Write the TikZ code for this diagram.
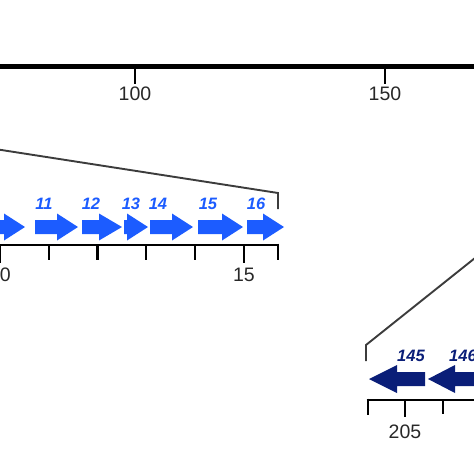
\documentclass[tikz,border=0pt]{standalone}
\usepackage{fontspec}
\setmainfont{Liberation Sans}
\usetikzlibrary{positioning}

\definecolor{geneblue}{RGB}{28,92,255}
\definecolor{genenavy}{RGB}{10,30,120}
\definecolor{zoomgray}{RGB}{60,60,60}
\definecolor{numgray}{RGB}{40,40,40}

% gene arrows: tail, head start, tip, centre line
\newcommand{\generight}[4]{(#1,#4-7) -- (#2,#4-7) -- (#2,#4-13.5) -- (#3,#4) -- (#2,#4+13.5) -- (#2,#4+7) -- (#1,#4+7) -- cycle}
\newcommand{\geneleft}[4]{(#1,#4-7) -- (#2,#4-7) -- (#2,#4-14) -- (#3,#4) -- (#2,#4+14) -- (#2,#4+7) -- (#1,#4+7) -- cycle}

\tikzset{
  genelabel/.style={font=\fontsize{16.5}{17}\selectfont\bfseries\itshape, inner sep=0pt},
  numlabel/.style={font=\fontsize{19.5}{20}\selectfont, text=numgray, inner sep=0pt},
  tickmark/.style={line width=2.6pt, line cap=butt},
  zoomline/.style={draw=zoomgray, line width=1.9pt}
}

\begin{document}
\begin{tikzpicture}[x=1pt, y=-1pt]
    \useasboundingbox (0,0) rectangle (474,474);
    \clip (0,0) rectangle (474,474);

    % top axis
    \draw[line width=5pt] (-5,66) -- (480,66);
    \draw[tickmark] (135,66) -- (135,84);
    \draw[tickmark] (385,66) -- (385,84);
    \node[numlabel] (t100) at (135,94) {100};
    \node[numlabel] (t150) at (385,94) {150};

    % left track
    \coordinate (lz1) at (-5,149);
    \coordinate (lz2) at (278,193);
    \coordinate (lz3) at (278,209);
    \draw[zoomline] (lz1) -- (lz2) -- (lz3);

    \fill[geneblue] \generight{-30}{4}{25}{227};
    \fill[geneblue] \generight{35}{57}{78}{227};
    \fill[geneblue] \generight{82}{99}{122}{227};
    \fill[geneblue] \generight{124}{127}{148}{227};
    \fill[geneblue] \generight{150}{172}{193}{227};
    \fill[geneblue] \generight{198}{222}{243}{227};
    \fill[geneblue] \generight{247}{263}{284}{227};
    \node[genelabel, text=geneblue] (g11) at (44,204) {11};
    \node[genelabel, text=geneblue] (g12) at (91,204) {12};
    \node[genelabel, text=geneblue] (g13) at (131,204) {13};
    \node[genelabel, text=geneblue] (g14) at (158,204) {14};
    \node[genelabel, text=geneblue] (g15) at (208,204) {15};
    \node[genelabel, text=geneblue] (g16) at (256,204) {16};

    \draw[line width=2.6pt] (-5,245) -- (279.3,245);
    \draw[tickmark] (0,245) -- (0,263);
    \draw[tickmark] (49,245) -- (49,260);
    \draw[tickmark] (97.5,245) -- (97.5,260);
    \draw[tickmark] (146,245) -- (146,260);
    \draw[tickmark] (195,245) -- (195,260);
    \draw[tickmark] (244,245) -- (244,263);
    \draw[tickmark] (278,243.7) -- (278,260);
    \node[numlabel] (t10) at (0,275) {10};
    \node[numlabel] (t15) at (244,275) {15};

    % right track
    \coordinate (rz1) at (366,361);
    \coordinate (rz2) at (366,345);
    \coordinate (rz3) at (480,254);
    \draw[zoomline] (rz1) -- (rz2) -- (rz3);

    \fill[genenavy] \geneleft{425}{397}{369}{379};
    \fill[genenavy] \geneleft{490}{455}{428}{379};
    \node[genelabel, text=genenavy] (g145) at (411,356) {145};
    \node[genelabel, text=genenavy] (g146) at (463,356) {146};

    \draw[line width=2.6pt] (366.7,400) -- (480,400);
    \draw[tickmark] (368,398.7) -- (368,415);
    \draw[tickmark] (405,400) -- (405,417);
    \draw[tickmark] (443,400) -- (443,414);
    \node[numlabel] (t205) at (405,432) {205};
\end{tikzpicture}
\end{document}
